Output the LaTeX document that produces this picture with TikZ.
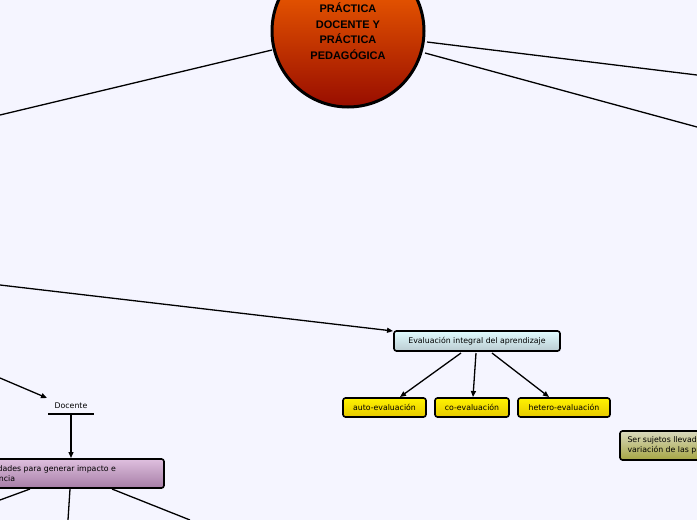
\documentclass[tikz,border=0pt]{standalone}
\usepackage{fontspec}
\setmainfont{DejaVu Sans}
\newfontfamily\titlefont{Liberation Sans}
\usetikzlibrary{arrows.meta}
\begin{document}
\begin{tikzpicture}[x=1pt,y=-1pt,
  conn/.style={line width=1.3pt,draw=black},
  arr/.style={conn,-{Triangle[length=6pt,width=5pt]}},
  lab/.style={font=\fontsize{7.8}{9.5}\selectfont},
  box/.style={draw=black,line width=1.6pt,rounded corners=2.5pt}]
\fill[fill=blue!4!white] (0,0) rectangle (697,520);
\clip (0,0) rectangle (697,520);
\useasboundingbox (0,0) rectangle (697,520);
% central circle
\shade[top color=orange!85!red, bottom color=red!55!black!90!orange, draw=black, line width=3pt] (348,31) circle (76);
\node[font=\titlefont\bfseries\fontsize{11}{15.5}\selectfont,align=center] (c) at (348,31) {PRÁCTICA\\DOCENTE Y\\PRÁCTICA\\PEDAGÓGICA};
\coordinate (c1) at (272,50); \coordinate (c2) at (427,42); \coordinate (c3) at (425,53);
\coordinate (l1) at (0,115); \coordinate (r1) at (697,75); \coordinate (r2) at (697,127);
\draw[conn] (c1) -- (l1); \draw[conn] (c2) -- (r1); \draw[conn] (c3) -- (r2);
% evaluation
\draw[box,top color=blue!10!cyan!12!white,bottom color=blue!25!cyan!20!gray!45!white] (394,331) rectangle (560,351);
\node[lab] (ev) at (477,341) {Evaluación integral del aprendizaje};
\coordinate (l2) at (0,285);
\draw[arr] (l2) -- (393,331);
\foreach \a/\b/\t/\n in {343/426/auto-evaluación/a,435/509/co-evaluación/b,518/610/hetero-evaluación/h}{
  \draw[box,top color=yellow!90!orange,bottom color=yellow!75!orange!90!black] (\a,398) rectangle (\b,417);
  \node[lab] (\n) at ({(\a+\b)/2},407.5) {\t};}
\draw[arr] (461,353) -- (400,397);
\draw[arr] (476,353) -- (473,397);
\draw[arr] (492,353) -- (549,397);
% green
\draw[box,top color=olive!35!gray!30!white,bottom color=olive!55!gray!70!white] (620,431) rectangle (720,460);
\node[lab,align=left,anchor=west] (g) at (624,445.5) {Ser sujetos llevados a la\\variación de las prácticas};
% docente
\coordinate (l3) at (0,378);
\node[lab] (d) at (71,406) {Docente};
\draw[line width=1.3pt] (48,414) -- (94,414);
\draw[arr] (l3) -- (47,398);
\draw[box,top color=violet!25!white,bottom color=violet!45!gray!70!white] (-40,459) rectangle (164,488);
\node[lab,align=left,anchor=west] (hb) at (-28,473.5) {Habilidades para generar impacto e\\incidencia};
\draw[arr] (71,414) -- (71,458);
\draw[conn] (30,489) -- (0,500);
\draw[conn] (70,489) -- (68,520);
\draw[conn] (112,489) -- (190,520);
\end{tikzpicture}
\end{document}
